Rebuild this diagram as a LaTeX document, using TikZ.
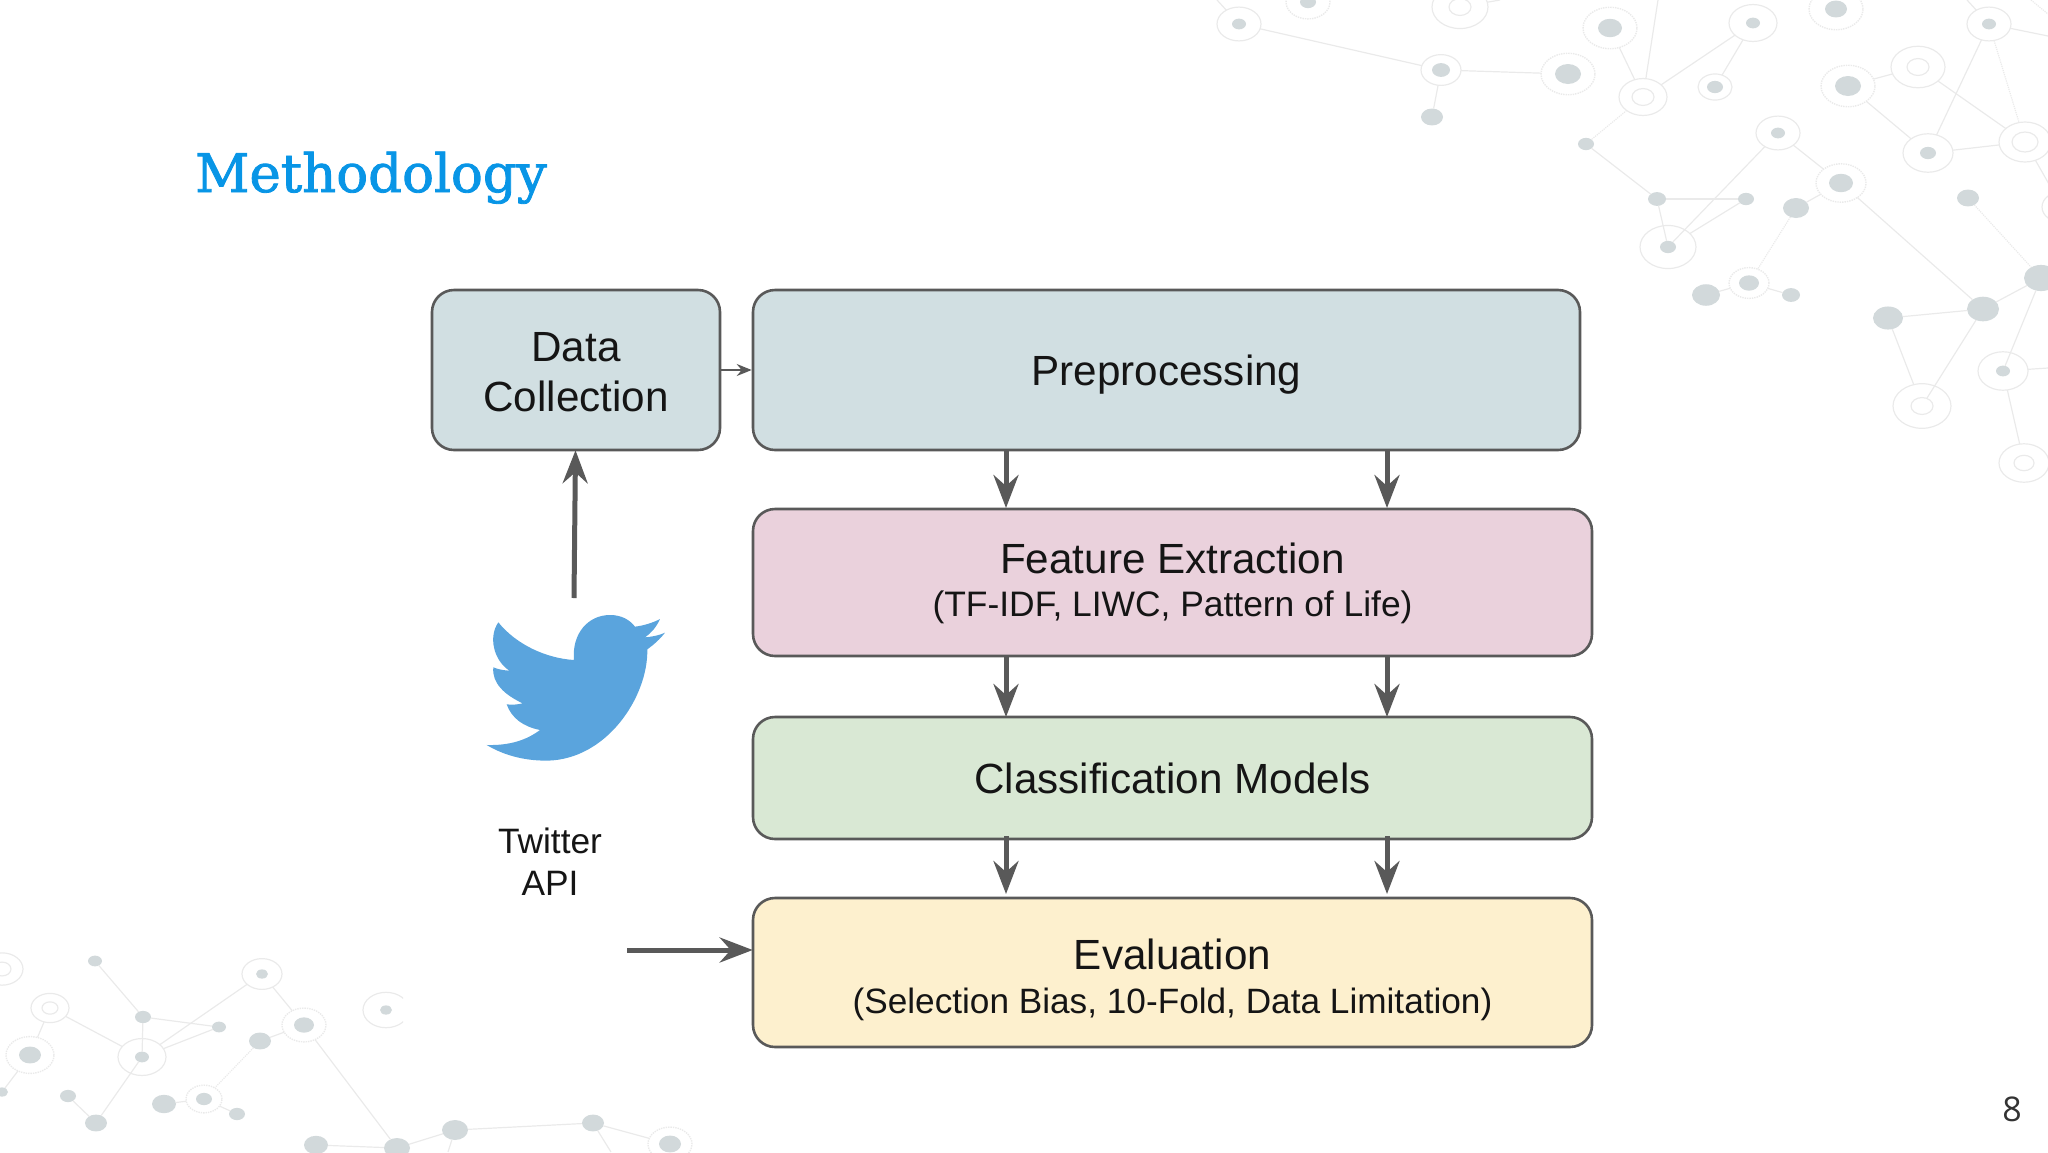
\documentclass[tikz,border=0pt]{standalone}
\usepackage{fontspec}
\setmainfont{Liberation Sans}
\newfontfamily\titlefont[FakeBold=1.6]{DejaVu Serif}
\newfontfamily\numfont{Open Sans}
\usetikzlibrary{arrows.meta,shapes.geometric}
\definecolor{strokec}{HTML}{595959}
\definecolor{bluec}{HTML}{D1DFE2}
\definecolor{pinkc}{HTML}{EAD1DC}
\definecolor{greenc}{HTML}{D9E8D4}
\definecolor{yellowc}{HTML}{FDF0CE}
\definecolor{titlec}{HTML}{0895E6}
\definecolor{birdc}{HTML}{5AA4DD}
\definecolor{dotc}{HTML}{D2D9DB}
\definecolor{netline}{HTML}{EAEAEA}
\definecolor{textc}{HTML}{151515}
\tikzset{
  stage/.style={draw=strokec,line width=2.6pt,rounded corners=22pt,inner sep=0pt,text=textc,
     align=center,font=\fontsize{42.2}{44}\selectfont},
  bigarrow/.style={draw=strokec,line width=5pt,-{Stealth[length=33pt,width=25pt,inset=11pt]},shorten >=-1pt},
  thinarrow/.style={draw=strokec,line width=2pt,-{Stealth[length=15pt,width=12pt,inset=5pt]}},
  plainlabel/.style={inner sep=0pt,text=textc,align=center,font=\fontsize{35.3}{42}\selectfont},
  netbase/.style={ellipse,inner sep=0pt,outer sep=0pt},
  netring/.style={netbase,draw=netline,line width=1.2pt},
  netdash/.style={netbase,draw=netline,line width=1.4pt,densely dotted},
  netdot/.style={netbase,fill=dotc},
  netedge/.style={draw=netline,line width=1.2pt},
  netdotted/.style={draw=netline,line width=1.2pt,densely dotted},
  sz/.style={minimum width=#1*2pt,minimum height=#1*2pt/1.3},
}
\newcommand\sol[4]{\node[netdot,sz=#4] (#1) at (#2,#3) {};}
\newcommand\rng[5]{\node[netring,sz=#4] (#1) at (#2,#3) {};\node[netdot,sz=#5] (#1d) at (#2,#3) {};}
\newcommand\dsh[5]{\node[netdash,sz=#4] (#1) at (#2,#3) {};\node[netdot,sz=#5] (#1d) at (#2,#3) {};}
\newcommand\dbl[5]{\node[netring,sz=#4] (#1) at (#2,#3) {};\node[netring,sz=#5] (#1d) at (#2,#3) {};}
\newcommand\subsize{\fontsize{35.4}{44}\selectfont}
\newcommand\subsizeb{\fontsize{35.2}{44}\selectfont}
\begin{document}
\begin{tikzpicture}[x=1pt,y=-1pt]
\useasboundingbox (0,0) rectangle (2048,1152);
\begin{scope}
\clip (0,0) rectangle (2048,1152);
% top right network
\rng{A}{1239}{24}{22}{7}
\dsh{B}{1308}{2}{22}{8}
\dbl{C}{1460}{7}{28}{11}
\rng{D}{1441}{70}{20}{9}
\dsh{E}{1568}{74}{27}{13}
\sol{F}{1432}{117}{11}
\dsh{G}{1610}{28}{27}{12}
\dbl{H}{1643}{97}{24}{11}
\rng{I}{1753}{23}{24}{7}
\rng{J}{1715}{87}{17}{8}
\dsh{K}{1836}{9}{27}{11}
\rng{L}{1989}{24}{22}{7}
\dbl{M}{1918}{67}{27}{11}
\dsh{N}{1848}{86}{27}{13}
\rng{O}{1778}{133}{22}{7}
\sol{P}{1586}{144}{8}
\sol{Q}{1657}{199}{9}
\sol{R}{1746}{199}{8}
\rng{S}{1668}{247}{28}{8}
\dsh{T}{1841}{183}{25}{12}
\sol{U}{1796}{208}{13}
\rng{V}{1928}{153}{25}{8}
\dbl{W}{2025}{142}{26}{13}
\dsh{X}{1749}{283}{20}{10}
\sol{Y}{1706}{295}{14}
\sol{Z}{1791}{295}{9}
\sol{AA}{1968}{198}{11}
\sol{AB}{2041}{278}{17}
\sol{AC}{1983}{309}{16}
\sol{AD}{1888}{318}{15}
\rng{AE}{2003}{371}{25}{7}
\dbl{AF}{1922}{406}{29}{11}
\dbl{AG}{2024}{463}{25}{10}
\node[netring,sz=20] (AH) at (2062,207) {};
\coordinate (e1) at (1217,0);
\coordinate (e2) at (1658,0);
\coordinate (e3) at (1967,0);
\coordinate (e4) at (2048,36);
\coordinate (e5) at (2048,368);
\coordinate (e6) at (1500,0);
\coordinate (e7) at (2031,0);
\coordinate (e8) at (2048,14);
\foreach \a/\b in {A/D,D/E,D/F,G/H,H/e2,H/I,I/J,A/e1,P/Q,Q/R,Q/Sd,R/S,Sd/O,O/T,T/U,X/Y,X/Z,T/AC,AC/AD,AC/AB,AC/AFd,AD/AF,AB/AEd,AE/AG,N/M,N/V,M/W,V/W,L/V,L/e3,L/e4,AE/e5,C/e6,W/AH}
  \draw[netedge] (\a) -- (\b);
\foreach \a/\b in {H/P,U/X,AA/AB,L/W,e7/e8}
  \draw[netdotted] (\a) -- (\b);
% bottom left network
\dbl{a}{2}{969}{21}{9}
\sol{b}{95}{961}{7}
\dbl{c}{50}{1008}{19}{8}
\rng{d}{262}{974}{20}{6}
\sol{f}{143}{1017}{8}
\sol{g}{219}{1027}{7}
\dsh{h}{304}{1025}{22}{10}
\sol{i}{260}{1041}{11}
\dsh{j}{30}{1055}{24}{11}
\rng{k}{142}{1057}{24}{7}
\sol{l}{2}{1092}{6}
\sol{m}{68}{1096}{8}
\dsh{n}{204}{1099}{18}{8}
\sol{o}{164}{1104}{12}
\sol{p}{237}{1114}{8}
\sol{q}{96}{1123}{11}
\sol{r}{316}{1145}{12}
\sol{s}{397}{1148}{13}
\sol{t}{455}{1130}{13}
\sol{u}{593}{1123}{11}
\dsh{v}{670}{1144}{22}{11}
\coordinate (e9) at (611,1152);
\coordinate (e10) at (448,1152);
\foreach \a/\b in {b/f,f/kd,f/g,g/k,k/d,d/h,h/i,n/o,n/p,k/c,c/j,j/l,kd/q,q/m,h/s,s/r,s/t,t/u,u/v,t/e10,u/e9}
  \draw[netedge] (\a) -- (\b);
\draw[netdotted] (i) -- (n);
\end{scope}
\begin{scope}
\clip (300,960) rectangle (403,1060);
\rng{e}{386}{1010}{23}{6}
\end{scope}
% title and page number
\node[inner sep=0pt,anchor=base west,text=titlec,font=\fontsize{53}{60}\selectfont\titlefont] (title) at (195,192) {Methodology};
\node[inner sep=0pt,anchor=base,text=black!80,font=\fontsize{34}{40}\selectfont\numfont] (pageno) at (2012,1121) {8};
% stages
\node[stage,fill=bluec,minimum width=288pt,minimum height=160pt] (data) at (576,370) {\rule{0pt}{33.5pt}Data\\[6pt]Collection};
\node[stage,fill=bluec,minimum width=827pt,minimum height=160pt,text height=30pt,text depth=0pt] (prep) at (1166.5,370) {Preprocessing};
\node[stage,fill=pinkc,minimum width=839pt,minimum height=147pt] (feat) at (1172.5,582.5) {\rule{0pt}{33pt}Feature Extraction\\[-1pt]{\subsize (TF-IDF, LIWC, Pattern of Life)}};
\node[stage,fill=greenc,minimum width=839pt,minimum height=122pt,text height=30pt,text depth=0pt] (clas) at (1172.5,778) {Classification Models};
\node[stage,fill=yellowc,minimum width=839pt,minimum height=149pt] (eval) at (1172.5,972.5) {\rule{0pt}{46pt}Evaluation\\[0pt]{\subsizeb (Selection Bias, 10-Fold, Data Limitation)}};
% bird and label
\fill[birdc,shift={(440,580)},x=0.3333pt,y=-0.3333pt]
  (175,127) .. controls (230,195) and (320,235) .. (402,240)
  .. controls (395,160) and (445,105) .. (510,105)
  .. controls (545,105) and (570,120) .. (585,140)
  .. controls (610,137) and (640,128) .. (660,117)
  .. controls (650,140) and (635,158) .. (615,172)
  .. controls (640,170) and (660,165) .. (675,158)
  .. controls (660,178) and (640,195) .. (622,208)
  .. controls (625,350) and (500,540) .. (320,542)
  .. controls (250,542) and (190,525) .. (140,495)
  .. controls (210,497) and (260,480) .. (300,450)
  .. controls (250,440) and (215,415) .. (200,373)
  .. controls (215,375) and (232,374) .. (248,370)
  .. controls (195,345) and (155,310) .. (160,262)
  .. controls (175,268) and (190,271) .. (208,272)
  .. controls (160,240) and (145,170) .. (175,127) -- cycle;
\node[plainlabel,anchor=base] (api) at (550,895) {Twitter\\API};
\coordinate (birdtop) at (574,598);
\coordinate (evalin) at (627,950);
% connectors
\draw[thinarrow] (data.east |- data.center) -- (prep.west |- data.center);
\draw[bigarrow] (birdtop) -- (data.south -| 575.5,0);
\draw[bigarrow] (evalin) -- (eval.west |- evalin);
\foreach \xx in {1006,1387}{
  \draw[bigarrow] (\xx,451) -- (\xx,507);
  \draw[bigarrow] (\xx,656) -- (\xx,716);
  \draw[bigarrow] (\xx,836) -- (\xx,893);
}
\end{tikzpicture}
\end{document}
